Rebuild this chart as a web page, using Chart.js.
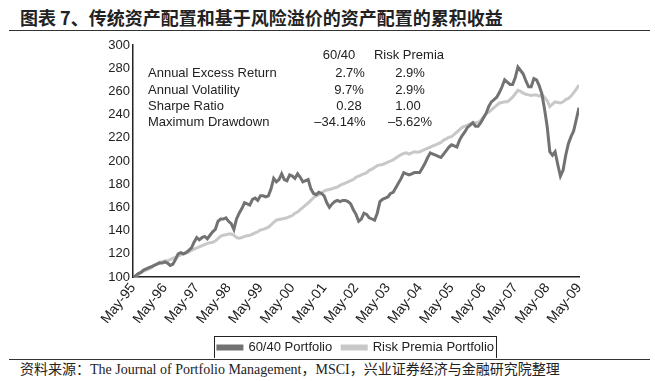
<!DOCTYPE html>
<html><head><meta charset="utf-8">
<script src="https://cdn.jsdelivr.net/npm/chart.js@4"></script>
<style>
html,body{margin:0;padding:0;background:#fff;width:655px;height:381px;overflow:hidden;}
#title{position:absolute;left:20px;top:5px;font:bold 18px "Noto Sans CJK SC",sans-serif;color:#222;white-space:nowrap;line-height:24px}
.rule{position:absolute;left:9px;width:641px;height:1px;background:#333}
#wrap{position:absolute;left:0;top:32px;width:655px;height:326px}
.st{position:absolute;font:13px "Liberation Sans",Arial,sans-serif;color:#222;white-space:nowrap;line-height:14px;transform:translate(-50%,-50%)}
.st.lb{transform:translate(0,-50%)}
#source{position:absolute;left:20px;top:362px;font:14px "Liberation Serif","Noto Sans CJK SC",serif;color:#222;line-height:16px;white-space:nowrap}
</style></head>
<body>
<div id="title">图表 7、传统资产配置和基于风险溢价的资产配置的累积收益</div>
<div class="rule" style="top:30px"></div>
<div id="wrap"><canvas id="c" width="655" height="326"></canvas></div>
<div id="stats"></div>
<div class="rule" style="top:359px"></div>
<div id="source">资料来源：The Journal of Portfolio Management，MSCI，兴业证券经济与金融研究院整理</div>
<script>
// ---- data (monthly, May-95 .. May-09) ----
const tickLabels = ['May-95','May-96','May-97','May-98','May-99','May-00','May-01','May-02','May-03','May-04','May-05','May-06','May-07','May-08','May-09'];
const seriesNames = ['60/40 Portfolio','Risk Premia Portfolio'];
const portfolio6040 = [
100,101,103,104,106,107,108,109,110,111,112,112,113,112,110,111,115,120,121,120,
121,123,125,130,134,132,134,135,133,136,139,141,148,150,150,151,148,146,141,150,
155,159,164,163,162,167,168,166,170,170,169,170,176,185,182,184,189,184,183,188,
187,185,189,186,182,183,184,176,172,171,173,172,170,164,160,163,165,166,165,166,
166,165,163,158,154,148,150,155,154,151,150,149,155,165,167,168,169,172,173,177,
181,185,190,189,188,189,190,190,190,194,198,203,207,206,205,204,203,206,209,212,
214,213,212,218,222,225,229,231,233,230,230,233,237,241,247,251,253,255,259,264,
270,268,266,266,272,281,278,275,269,264,264,271,270,265,258,245,230,208,205,208,
197,187,192,205,215,221,226,236,246];
const riskPremia = [
100,101,102,104,105,106,107,108,110,111,113,113,114,114,115,116,117,118,119,120,
121,121.5,123,124,125,126,127,128,129,129.5,130,131,133,135,136,136.5,137,137,136,134,
133.5,134,135,135.5,136,137,138,139,140.5,141,142,143,145,147,149,149.5,150,150.5,151,152,
153,155,156,158,160,162,164,166,168.5,170,171,172.5,174,175,175.5,176,177,177.5,179,180,
181,182,183,184,186,187,188,189,190,192,193,194.5,196,196.5,197,198,199,200,201,202.5,
204,205.5,206.5,207,206,207,208,207.5,208,209,210,211,212,213,214,215,216,218,219,220.5,
221,223,225,227,229,230,231,232,233,233,233.5,235,238,241,242,244,246,248,250,250.5,
251,251,253,255,258,261,260,258.5,257.5,257,256.5,257,257,256,257,255,252,247,249,251,
250.5,250,251,253,254,256,259,262,265.5];
const statHeaders = ['60/40','Risk Premia'];
const statRows = ['Annual Excess Return','Annual Volatility','Sharpe Ratio','Maximum Drawdown'];
const stat6040 = ['2.7%','9.7%','0.28','–34.14%'];
const statRP = ['2.9%','2.9%','1.00','–5.62%'];

// ---- stats table as text ----
(function(){
  const box = document.getElementById('stats');
  const rowY = [72.5, 89.5, 106, 122];
  const add = (txt, x, y, cls) => { const d=document.createElement('div'); d.className='st '+(cls||''); d.style.left=x+'px'; d.style.top=y+'px'; d.textContent=txt; box.appendChild(d); };
  add(statHeaders[0], 339, 55); add(statHeaders[1], 409, 55);
  const c1 = [350,349,349,340], c2 = [410,410,408,410];
  statRows.forEach((r,i)=>{ add(r,148,rowY[i],'lb'); add(stat6040[i],c1[i],rowY[i]); add(statRP[i],c2[i],rowY[i]); });
})();

const FONT = {family:'"Liberation Sans", Arial, sans-serif', size:13};
const XFONT = {family:'"Liberation Sans", Arial, sans-serif', size:14};
const legendBorder = {
  id:'legendBorder',
  beforeLayout(chart){
    const lg = chart.legend;
    if (lg && !lg._patched){ const f = lg.fit; lg.fit = function(){ f.call(this); this.height = 27; }; lg._patched = true; }
  },
  afterDraw(chart){
    const lg = chart.legend; if(!lg || !lg.legendHitBoxes.length) return;
    const hb = lg.legendHitBoxes;
    let l=Infinity,r=-Infinity,t=Infinity,b=-Infinity;
    hb.forEach(h=>{l=Math.min(l,h.left);r=Math.max(r,h.left+h.width);t=Math.min(t,h.top);b=Math.max(b,h.top+h.height);});
    const ctx=chart.ctx; ctx.save(); ctx.strokeStyle='#222'; ctx.lineWidth=1;
    ctx.strokeRect(Math.round(l-4)+0.5, Math.round(t-5)+0.5, Math.round(r-l+6), Math.round(b-t+9));
    ctx.restore();
  }
};

new Chart(document.getElementById('c'), {
  type:'line',
  data:{ datasets:[
    { label:seriesNames[0], data:portfolio6040.map((v,i)=>({x:i,y:v})), borderColor:'#727272', backgroundColor:'#727272', borderWidth:3, pointRadius:0, tension:0 },
    { label:seriesNames[1], data:riskPremia.map((v,i)=>({x:i,y:v})), borderColor:'#c8c8c8', backgroundColor:'#c8c8c8', borderWidth:3, pointRadius:0, tension:0 }
  ]},
  options:{
    responsive:false, animation:false, devicePixelRatio:1,
    layout:{ padding:{ top:13, right:76, bottom:0, left:0 } },
    plugins:{
      legend:{ position:'bottom', fullSize:false, labels:{ boxWidth:24, boxHeight:3, padding:10, color:'#222', font:FONT } },
      tooltip:{ enabled:false }
    },
    scales:{
      x:{ type:'linear', min:0, max:168,
          afterFit(s){ s.height = 54; },
          grid:{ display:false, drawTicks:false },
          border:{ display:true, color:'#222', width:1.5 },
          ticks:{ stepSize:12, autoSkip:false, minRotation:52, maxRotation:52, padding:3, color:'#222', font:XFONT,
                  callback:(v)=> tickLabels[v/12] } },
      y:{ min:100, max:300,
          afterFit(s){ s.width = 133; },
          grid:{ display:false, drawTicks:false },
          border:{ display:true, color:'#222', width:1.5 },
          ticks:{ stepSize:20, padding:3, color:'#222', font:FONT } }
    }
  },
  plugins:[legendBorder]
});
</script>
</body></html>
